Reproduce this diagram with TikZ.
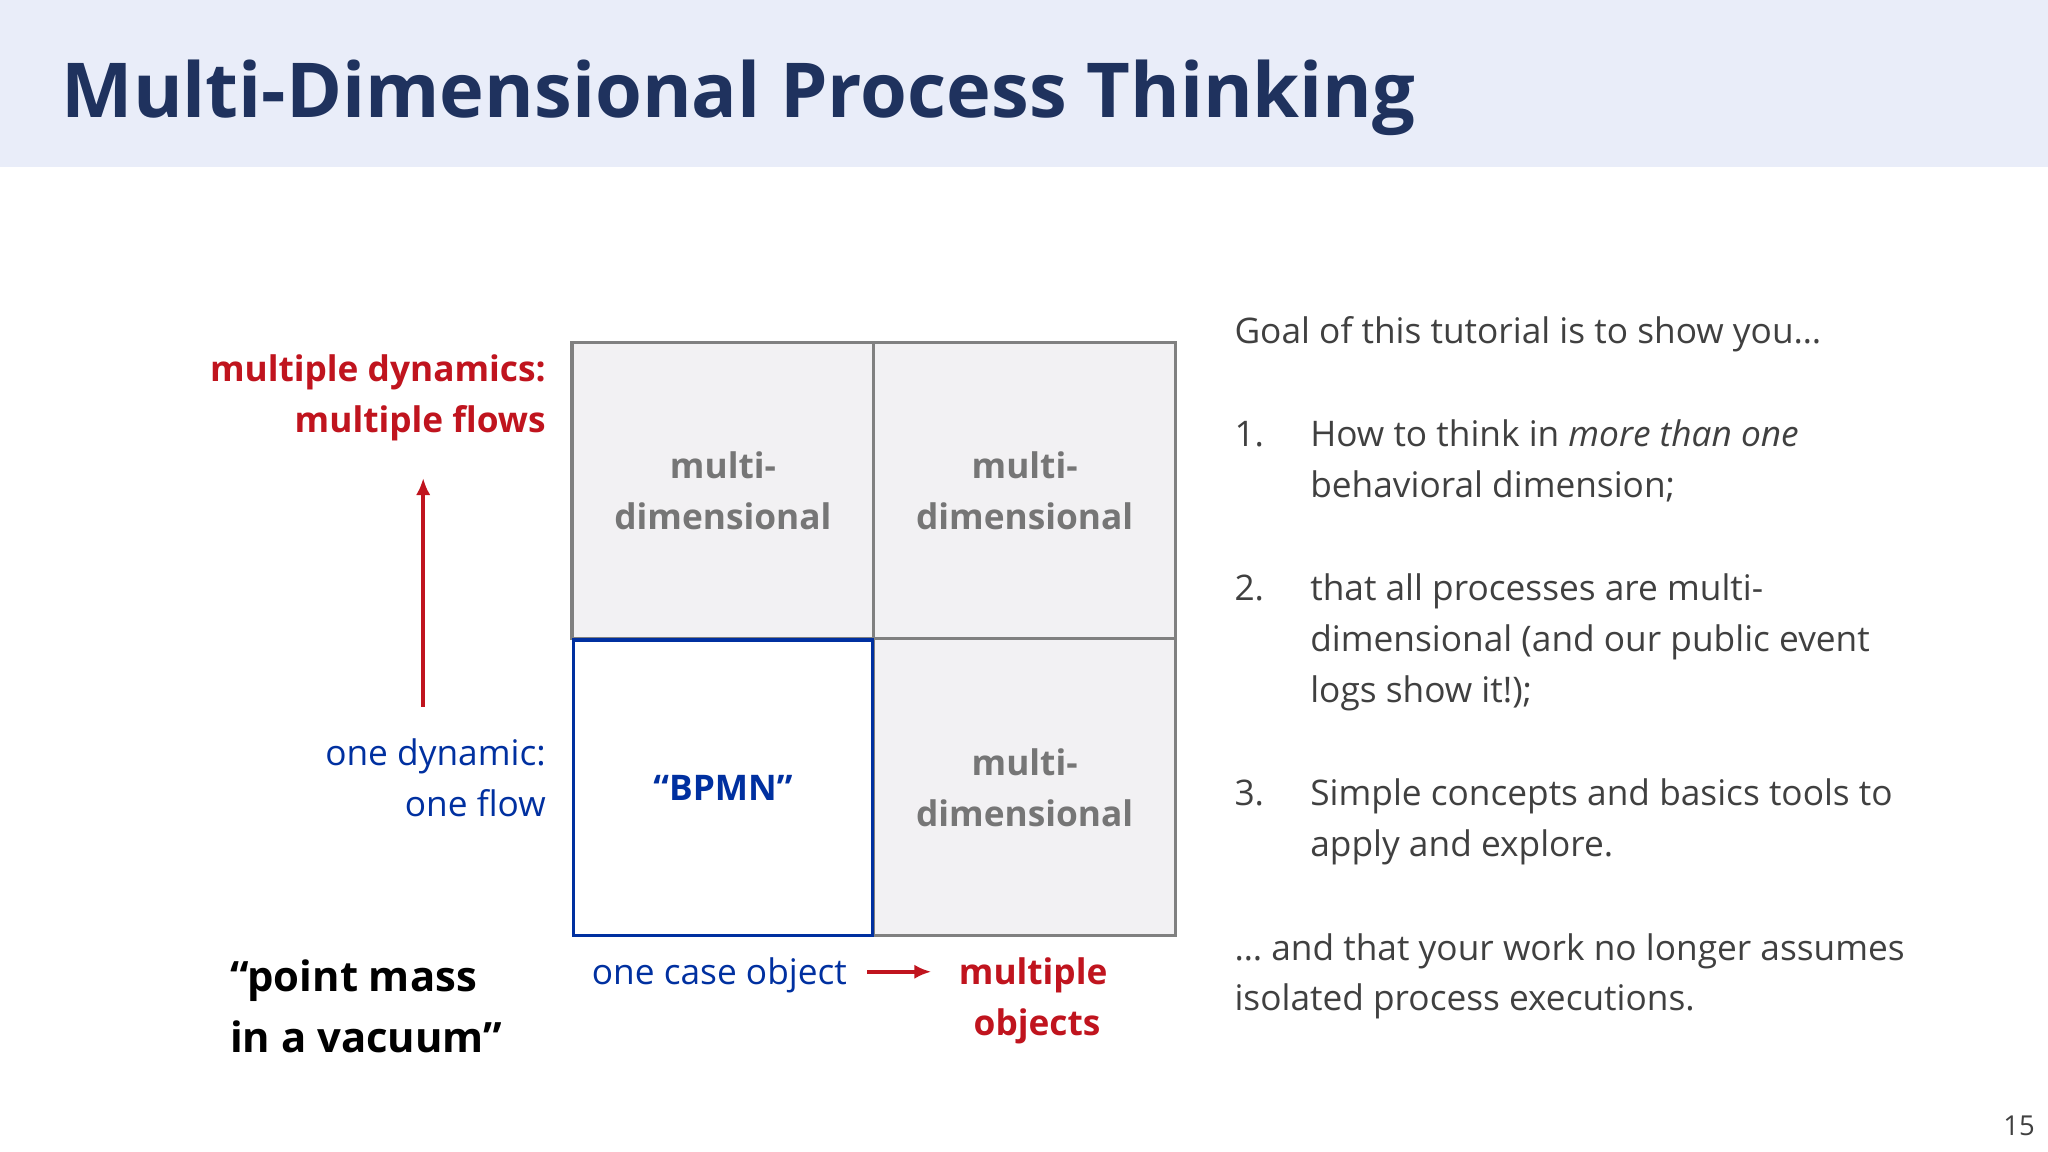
\documentclass[tikz,border=0pt]{standalone}
\usepackage{fontspec}
\usetikzlibrary{arrows.meta}
\setmainfont{Open Sans}
\definecolor{hdr}{RGB}{233,237,249}
\definecolor{navy}{RGB}{31,50,94}
\definecolor{cellg}{RGB}{242,241,243}
\definecolor{bord}{RGB}{128,128,128}
\definecolor{celltxt}{RGB}{118,118,118}
\definecolor{myblue}{RGB}{0,48,160}
\definecolor{myred}{RGB}{192,20,30}
\definecolor{bodytxt}{RGB}{64,64,64}
\begin{document}
\begin{tikzpicture}[x=1pt,y=-1pt,
  cell/.style={draw=bord,fill=cellg,line width=2.5pt},
  celltext/.style={text=celltxt,font=\bfseries\fontsize{27}{39}\selectfont,align=center},
  lbl/.style={font=\fontsize{27}{39}\selectfont,inner sep=0pt},
  body/.style={text=bodytxt,font=\fontsize{27}{39}\selectfont,anchor=base west,inner sep=0pt}]
\useasboundingbox (0,0) rectangle (1568,882);
\fill[white] (0,0) rectangle (1568,882);
\fill[hdr] (0,0) rectangle (1568,128);
\node[anchor=base west,inner sep=0pt,text=navy,font=\bfseries\fontsize{58}{70}\selectfont] (title) at (47,90) {Multi-Dimensional Process Thinking};
% grid
\draw[cell] (438,262) rectangle (669,489);
\draw[cell] (669,262) rectangle (900,489);
\draw[cell] (669,489) rectangle (900,716);
\draw[draw=myblue,fill=white,line width=2.5pt] (439,490) rectangle (668,716);
\node[celltext] (c1) at (553.5,376) {multi-\\dimensional};
\node[celltext] (c2) at (784.5,376) {multi-\\dimensional};
\node[celltext] (c3) at (784.5,603) {multi-\\dimensional};
\node[text=myblue,font=\bfseries\fontsize{27}{39}\selectfont] (bpmn) at (553.5,603) {“BPMN”};
% left labels
\node[lbl,anchor=base east,text=myred,font=\bfseries\fontsize{27}{39}\selectfont] (m1) at (418,292) {multiple dynamics:};
\node[lbl,anchor=base east,text=myred,font=\bfseries\fontsize{27}{39}\selectfont] (m2) at (418,331) {multiple flows};
\coordinate (up0) at (324,541);
\coordinate (up1) at (324,366);
\draw[myred,line width=3pt,-{Latex[length=13pt,width=11pt]}] (up0) -- (up1);
\node[lbl,anchor=base east,text=myblue] (o1) at (418,586) {one dynamic:};
\node[lbl,anchor=base east,text=myblue] (o2) at (418,625) {one flow};
\node[lbl,anchor=base west,font=\bfseries\fontsize{32}{46}\selectfont] (p1) at (176,759) {“point mass};
\node[lbl,anchor=base west,font=\bfseries\fontsize{32}{46}\selectfont] (p2) at (176,806) {in a vacuum”};
% bottom labels
\node[lbl,anchor=base west,text=myblue] (oc) at (453,754) {one case object};
\node[lbl,anchor=base,text=myred,font=\bfseries\fontsize{27}{39}\selectfont] (mo1) at (791,754) {multiple};
\node[lbl,anchor=base,text=myred,font=\bfseries\fontsize{27}{39}\selectfont] (mo2) at (794,793) {objects};
\coordinate (r0) at (664,744);
\coordinate (r1) at (713,744);
\draw[myred,line width=3pt,-{Latex[length=13pt,width=11pt]}] (r0) -- (r1);
% right text
\node[body] (t0) at (945,263) {Goal of this tutorial is to show you…};
\node[body] (n1) at (945,342) {1.};
\node[body] (t1a) at (1003,342) {How to think in \textit{more than one}};
\node[body] (t1b) at (1003,381) {behavioral dimension;};
\node[body] (n2) at (945,460) {2.};
\node[body] (t2a) at (1003,460) {that all processes are multi-};
\node[body] (t2b) at (1003,499) {dimensional (and our public event};
\node[body] (t2c) at (1003,538) {logs show it!);};
\node[body] (n3) at (945,617) {3.};
\node[body] (t3a) at (1003,617) {Simple concepts and basics tools to};
\node[body] (t3b) at (1003,656) {apply and explore.};
\node[body] (t4a) at (945,735) {… and that your work no longer assumes};
\node[body] (t4b) at (945,774) {isolated process executions.};
\node[anchor=base east,inner sep=0pt,text=bodytxt,font=\fontsize{21}{26}\selectfont] (pg) at (1558,869) {15};
\end{tikzpicture}
\end{document}
